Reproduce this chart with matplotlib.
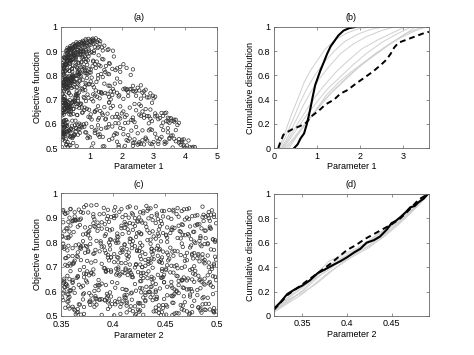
import numpy as np
import matplotlib
matplotlib.use('Agg')
import matplotlib.pyplot as plt

plt.rcParams['font.family'] = ['Liberation Sans', 'DejaVu Sans']
plt.rcParams['font.size'] = 6.5

# Monte Carlo samples: objective value, parameter 1, parameter 2 (one entry per run)
objective = [
    0.912, 0.934, 0.905, 0.948, 0.921, 0.939, 0.903, 0.927, 0.953, 0.916,
    0.908, 0.931, 0.944, 0.919, 0.902, 0.937, 0.925, 0.911, 0.941, 0.929,
    0.906, 0.923, 0.935, 0.951, 0.914, 0.901, 0.932, 0.918, 0.946, 0.909,
    0.927, 0.904, 0.938, 0.913, 0.924, 0.942, 0.907, 0.933, 0.917, 0.903,
    0.915, 0.936, 0.901, 0.928, 0.943, 0.910, 0.922, 0.949, 0.905, 0.930,
    0.852, 0.887, 0.814, 0.869, 0.833, 0.896, 0.805, 0.878, 0.841, 0.862,
    0.823, 0.891, 0.857, 0.808, 0.874, 0.846, 0.899, 0.817, 0.865, 0.838,
    0.881, 0.826, 0.859, 0.893, 0.811, 0.848, 0.872, 0.835, 0.802, 0.884,
    0.843, 0.868, 0.819, 0.895, 0.856, 0.829, 0.877, 0.812, 0.889, 0.851,
    0.807, 0.874, 0.836, 0.861, 0.898, 0.824, 0.845, 0.883, 0.816, 0.867,
    0.892, 0.831, 0.855, 0.803, 0.879, 0.842, 0.866, 0.821, 0.887, 0.849,
    0.838, 0.863, 0.809, 0.886, 0.827, 0.871, 0.853, 0.815, 0.894, 0.834,
    0.876, 0.818, 0.847, 0.882, 0.804, 0.858, 0.825, 0.897, 0.839, 0.864,
    0.829, 0.885, 0.851, 0.812, 0.873, 0.844, 0.801, 0.868, 0.836, 0.891,
    0.858, 0.822, 0.879, 0.843, 0.806, 0.889, 0.832, 0.861, 0.817, 0.875,
    0.752, 0.787, 0.714, 0.769, 0.733, 0.796, 0.705, 0.778, 0.741, 0.762,
    0.723, 0.791, 0.757, 0.708, 0.774, 0.746, 0.799, 0.717, 0.765, 0.738,
    0.781, 0.726, 0.759, 0.793, 0.711, 0.748, 0.772, 0.735, 0.702, 0.784,
    0.743, 0.768, 0.719, 0.795, 0.756, 0.729, 0.777, 0.712, 0.789, 0.751,
    0.707, 0.774, 0.736, 0.761, 0.798, 0.724, 0.745, 0.783, 0.716, 0.767,
    0.792, 0.731, 0.755, 0.703, 0.779, 0.742, 0.766, 0.721, 0.787, 0.749,
    0.738, 0.763, 0.709, 0.786, 0.727, 0.771, 0.753, 0.715, 0.794, 0.734,
    0.776, 0.718, 0.747, 0.782, 0.704, 0.758, 0.725, 0.797, 0.739, 0.764,
    0.729, 0.785, 0.751, 0.712, 0.773, 0.744, 0.701, 0.768, 0.736, 0.791,
    0.758, 0.722, 0.779, 0.743, 0.706, 0.789, 0.732, 0.761, 0.717, 0.775,
    0.652, 0.687, 0.614, 0.669, 0.633, 0.696, 0.605, 0.678, 0.641, 0.662,
    0.623, 0.691, 0.657, 0.608, 0.674, 0.646, 0.699, 0.617, 0.665, 0.638,
    0.681, 0.626, 0.659, 0.693, 0.611, 0.648, 0.672, 0.635, 0.602, 0.684,
    0.643, 0.668, 0.619, 0.695, 0.656, 0.629, 0.677, 0.612, 0.689, 0.651,
    0.607, 0.674, 0.636, 0.661, 0.698, 0.624, 0.645, 0.683, 0.616, 0.667,
    0.692, 0.631, 0.655, 0.603, 0.679, 0.642, 0.666, 0.621, 0.687, 0.649,
    0.638, 0.663, 0.609, 0.686, 0.627, 0.671, 0.653, 0.615, 0.694, 0.634,
    0.676, 0.618, 0.647, 0.682, 0.604, 0.658, 0.625, 0.697, 0.639, 0.664,
    0.629, 0.685, 0.651, 0.612, 0.673, 0.644, 0.601, 0.668, 0.636, 0.691,
    0.658, 0.622, 0.679, 0.643, 0.606, 0.689, 0.632, 0.661, 0.617, 0.675,
    0.552, 0.587, 0.514, 0.569, 0.533, 0.596, 0.505, 0.578, 0.541, 0.562,
    0.523, 0.591, 0.557, 0.508, 0.574, 0.546, 0.599, 0.517, 0.565, 0.538,
    0.581, 0.526, 0.559, 0.593, 0.511, 0.548, 0.572, 0.535, 0.502, 0.584,
    0.543, 0.568, 0.519, 0.595, 0.556, 0.529, 0.577, 0.512, 0.589, 0.551,
    0.507, 0.574, 0.536, 0.561, 0.598, 0.524, 0.545, 0.583, 0.516, 0.567,
    0.592, 0.531, 0.555, 0.503, 0.579, 0.542, 0.566, 0.521, 0.587, 0.549,
    0.538, 0.563, 0.509, 0.586, 0.527, 0.571, 0.553, 0.515, 0.594, 0.534,
    0.576, 0.518, 0.547, 0.582, 0.504, 0.558, 0.525, 0.597, 0.539, 0.564,
    0.529, 0.585, 0.551, 0.512, 0.573, 0.544, 0.501, 0.568, 0.536, 0.591,
    0.558, 0.522, 0.579, 0.543, 0.506, 0.589, 0.532, 0.561, 0.517, 0.575,
    0.921, 0.906, 0.944, 0.913, 0.935, 0.902, 0.928, 0.917, 0.939, 0.909,
    0.932, 0.915, 0.904, 0.947, 0.923, 0.911, 0.936, 0.901, 0.926, 0.919,
    0.907, 0.940, 0.918, 0.929, 0.903, 0.952, 0.914, 0.933, 0.908, 0.924,
    0.845, 0.871, 0.813, 0.896, 0.828, 0.859, 0.884, 0.806, 0.837, 0.866,
    0.818, 0.853, 0.892, 0.831, 0.874, 0.802, 0.863, 0.841, 0.887, 0.824,
    0.869, 0.809, 0.848, 0.881, 0.822, 0.857, 0.895, 0.834, 0.812, 0.876,
    0.833, 0.888, 0.816, 0.852, 0.899, 0.827, 0.864, 0.805, 0.878, 0.846,
    0.893, 0.826, 0.867, 0.811, 0.843, 0.882, 0.819, 0.856, 0.891, 0.839,
    0.804, 0.861, 0.835, 0.886, 0.815, 0.873, 0.849, 0.898, 0.828, 0.857,
    0.745, 0.771, 0.713, 0.796, 0.728, 0.759, 0.784, 0.706, 0.737, 0.766,
    0.718, 0.753, 0.792, 0.731, 0.774, 0.702, 0.763, 0.741, 0.787, 0.724,
    0.769, 0.709, 0.748, 0.781, 0.722, 0.757, 0.795, 0.734, 0.712, 0.776,
    0.733, 0.788, 0.716, 0.752, 0.799, 0.727, 0.764, 0.705, 0.778, 0.746,
    0.793, 0.726, 0.767, 0.711, 0.743, 0.782, 0.719, 0.756, 0.791, 0.739,
    0.704, 0.761, 0.735, 0.786, 0.715, 0.773, 0.749, 0.798, 0.728, 0.757,
    0.752, 0.714, 0.783, 0.738, 0.769, 0.701, 0.744, 0.776, 0.721, 0.762,
    0.648, 0.673, 0.611, 0.694, 0.627, 0.658, 0.683, 0.604, 0.639, 0.667,
    0.616, 0.652, 0.691, 0.633, 0.676, 0.601, 0.662, 0.643, 0.688, 0.622,
    0.671, 0.607, 0.646, 0.682, 0.624, 0.655, 0.697, 0.636, 0.613, 0.678,
    0.631, 0.686, 0.618, 0.654, 0.699, 0.625, 0.665, 0.603, 0.679, 0.645,
    0.695, 0.628, 0.669, 0.609, 0.641, 0.684, 0.617, 0.657, 0.692, 0.637,
    0.605, 0.663, 0.637, 0.687, 0.614, 0.672, 0.649, 0.698, 0.626, 0.659,
    0.654, 0.613, 0.681, 0.638, 0.667, 0.602, 0.646, 0.675, 0.621, 0.663,
    0.548, 0.573, 0.511, 0.594, 0.527, 0.558, 0.583, 0.504, 0.539, 0.567,
    0.516, 0.552, 0.591, 0.533, 0.576, 0.501, 0.562, 0.543, 0.588, 0.522,
    0.571, 0.507, 0.546, 0.582, 0.524, 0.555, 0.597, 0.536, 0.513, 0.578,
    0.531, 0.586, 0.518, 0.554, 0.599, 0.525, 0.565, 0.503, 0.579, 0.545,
    0.595, 0.528, 0.569, 0.509, 0.541, 0.584, 0.517, 0.557, 0.592, 0.537,
    0.505, 0.563, 0.537, 0.587, 0.514, 0.572, 0.549, 0.598, 0.526, 0.559,
    0.554, 0.513, 0.581, 0.538, 0.567, 0.502, 0.546, 0.575, 0.521, 0.563,
]

param1 = [
    0.45, 0.82, 1.55, 1.05, 0.38, 1.22, 0.31, 0.66, 1.18, 1.38,
    0.72, 1.10, 0.88, 0.52, 1.72, 0.57, 0.97, 0.36, 1.32, 0.48,
    0.58, 1.45, 0.74, 0.95, 0.29, 1.12, 0.61, 0.83, 1.27, 0.42,
    1.02, 0.88, 0.69, 1.24, 0.44, 1.08, 0.34, 0.92, 0.63, 1.40,
    0.76, 1.16, 0.50, 0.79, 0.77, 0.95, 0.55, 0.86, 0.27, 1.30,
    0.35, 0.62, 1.48, 0.22, 0.81, 1.05, 0.18, 1.75, 0.47, 0.93,
    0.27, 0.40, 1.21, 0.66, 0.31, 2.05, 0.73, 0.15, 0.54, 1.33,
    0.84, 0.43, 0.19, 1.12, 0.71, 1.62, 0.26, 0.58, 2.28, 0.49,
    0.21, 1.38, 0.34, 0.69, 0.87, 1.85, 0.44, 0.98, 0.29, 0.64,
    1.55, 0.17, 0.76, 0.38, 0.52, 1.02, 0.25, 1.27, 0.61, 0.80,
    0.30, 2.15, 0.57, 0.45, 0.95, 0.16, 1.42, 0.83, 0.68, 0.24,
    1.08, 0.32, 0.89, 0.41, 1.70, 0.20, 0.63, 1.95, 0.55, 0.37,
    0.78, 0.23, 1.16, 0.50, 0.66, 0.28, 2.35, 0.86, 1.50, 0.42,
    0.60, 0.33, 1.60, 0.14, 0.74, 0.91, 1.25, 0.46, 0.19, 0.99,
    0.39, 1.80, 0.53, 0.26, 1.35, 0.71, 0.17, 1.10, 0.85, 0.36,
    0.28, 1.85, 0.55, 0.19, 2.40, 0.72, 1.30, 0.36, 2.75, 0.88,
    0.14, 0.47, 1.62, 0.95, 0.24, 2.10, 0.63, 1.15, 0.33, 2.55,
    0.41, 2.90, 0.16, 1.40, 0.80, 0.29, 1.95, 0.58, 1.05, 0.21,
    2.25, 0.38, 1.70, 0.67, 0.13, 2.65, 0.49, 1.22, 0.90, 0.26,
    0.52, 0.18, 2.35, 1.08, 0.34, 1.55, 0.75, 0.22, 2.98, 0.60,
    0.31, 1.35, 0.45, 2.05, 0.69, 0.15, 1.78, 0.92, 0.40, 2.50,
    1.18, 0.23, 2.80, 0.57, 1.48, 0.35, 0.83, 2.20, 0.20, 1.65,
    0.44, 1.92, 0.12, 0.77, 2.60, 0.30, 1.38, 0.54, 2.15, 0.98,
    0.65, 0.27, 1.12, 3.05, 0.48, 1.72, 0.17, 0.86, 2.45, 0.37,
    1.58, 0.61, 0.25, 2.30, 0.82, 0.42, 1.28, 0.19, 2.70, 1.02,
    0.33, 2.95, 0.18, 1.45, 3.30, 0.62, 2.20, 0.27, 1.85, 0.90,
    3.55, 0.48, 1.20, 0.15, 2.60, 0.75, 0.23, 3.70, 1.65, 0.40,
    0.56, 2.35, 0.21, 1.10, 3.40, 0.38, 1.95, 0.12, 2.85, 0.70,
    1.38, 0.26, 3.15, 0.52, 2.45, 0.95, 0.17, 3.60, 0.44, 2.05,
    0.29, 1.72, 0.60, 2.75, 0.36, 1.28, 3.25, 0.20, 2.30, 0.83,
    0.45, 3.05, 0.14, 2.10, 0.68, 1.55, 0.31, 2.90, 0.24, 1.15,
    2.55, 0.39, 3.45, 0.16, 1.90, 0.58, 1.32, 0.25, 0.87, 3.10,
    0.22, 1.48, 0.77, 2.40, 3.80, 0.13, 2.70, 0.50, 1.02, 0.34,
    1.80, 0.42, 2.65, 0.19, 1.25, 3.35, 0.66, 0.28, 2.15, 0.53,
    0.97, 3.50, 0.35, 2.00, 0.11, 1.60, 2.80, 0.47, 3.65, 0.24,
    0.31, 2.45, 3.85, 0.19, 1.60, 0.72, 4.25, 2.90, 0.44, 1.15,
    3.40, 0.26, 2.05, 0.58, 3.70, 1.30, 0.15, 2.60, 0.85, 3.20,
    0.40, 1.85, 3.05, 0.22, 4.05, 0.95, 2.30, 0.13, 3.60, 1.50,
    2.75, 0.36, 1.10, 3.75, 0.18, 2.20, 0.63, 3.95, 1.70, 0.49,
    1.40, 3.30, 0.24, 2.50, 0.80, 3.85, 0.12, 1.95, 2.95, 0.55,
    0.28, 2.80, 1.25, 4.15, 0.67, 3.50, 0.20, 2.35, 1.05, 0.42,
    3.65, 0.17, 2.10, 0.75, 3.15, 0.33, 1.75, 2.70, 0.52, 3.90,
    1.20, 2.55, 0.46, 3.45, 1.90, 0.14, 3.00, 0.60, 2.25, 0.88,
    0.21, 1.55, 3.55, 0.38, 2.85, 1.00, 4.20, 0.29, 2.40, 3.25,
    0.50, 3.80, 1.35, 0.16, 3.95, 0.70, 2.65, 1.80, 3.35, 0.34,
    0.52, 0.40, 0.99, 0.68, 0.88, 0.25, 0.59, 1.15, 0.80, 0.33,
    0.71, 0.47, 0.62, 1.12, 0.90, 0.37, 1.04, 0.79, 0.53, 1.26,
    0.43, 1.00, 0.56, 0.64, 0.97, 1.09, 0.39, 0.75, 1.58, 0.85,
    0.24, 0.55, 0.16, 0.81, 0.43, 0.30, 0.67, 0.92, 0.20, 0.48,
    0.36, 0.72, 0.27, 1.18, 0.19, 0.58, 0.41, 0.13, 0.90, 0.65,
    0.32, 0.85, 0.22, 0.51, 1.45, 0.38, 0.60, 0.17, 1.02, 0.29,
    0.70, 0.23, 0.44, 0.15, 0.78, 0.97, 0.35, 1.60, 0.56, 0.26,
    0.47, 0.18, 0.88, 0.61, 1.28, 0.33, 0.21, 0.74, 0.39, 0.53,
    0.14, 0.27, 1.95, 0.46, 0.68, 0.22, 0.37, 0.63, 0.83, 1.10,
    0.21, 0.15, 1.90, 0.45, 0.34, 2.60, 0.28, 0.62, 0.18, 1.45,
    0.39, 0.26, 0.17, 2.20, 0.52, 0.13, 0.95, 0.31, 1.25, 0.57,
    0.16, 2.85, 0.42, 0.24, 1.10, 0.36, 0.49, 1.75, 0.20, 0.66,
    0.27, 0.13, 2.45, 0.58, 0.22, 1.35, 0.18, 3.00, 0.40, 0.70,
    0.45, 0.33, 0.15, 1.60, 2.05, 0.26, 0.55, 0.19, 1.05, 0.85,
    0.14, 0.38, 2.70, 0.23, 0.60, 1.20, 0.29, 0.44, 1.85, 2.35,
    0.50, 0.17, 0.32, 0.78, 0.25, 1.65, 2.15, 0.41, 0.12, 0.63,
    0.19, 0.42, 2.95, 0.27, 1.70, 0.14, 0.61, 3.50, 0.35, 2.25,
    0.23, 1.15, 0.31, 2.60, 0.16, 0.88, 0.48, 3.05, 0.21, 1.95,
    0.37, 2.40, 0.13, 0.72, 3.20, 0.26, 0.18, 1.40, 0.54, 0.30,
    2.85, 0.15, 1.05, 0.40, 0.22, 3.45, 0.66, 1.80, 0.29, 0.12,
    0.20, 2.10, 0.34, 3.65, 0.47, 0.25, 1.25, 0.82, 0.14, 2.70,
    3.30, 0.18, 0.59, 1.60, 2.35, 0.38, 0.24, 0.11, 1.00, 2.90,
    0.28, 0.44, 2.55, 0.17, 0.74, 1.90, 3.40, 0.32, 1.50, 0.21,
    0.16, 2.65, 0.35, 1.25, 3.90, 0.22, 0.55, 4.30, 1.70, 0.13,
    0.26, 3.60, 0.19, 2.15, 0.45, 1.05, 0.14, 3.10, 0.82, 2.40,
    0.33, 1.45, 3.25, 0.17, 2.55, 0.62, 0.24, 3.95, 1.90, 0.40,
    4.10, 0.20, 2.90, 0.52, 1.60, 0.29, 3.45, 0.12, 2.05, 0.38,
    0.15, 3.70, 0.27, 2.35, 0.92, 0.18, 3.15, 1.30, 0.43, 2.75,
    0.30, 0.68, 3.80, 0.21, 2.50, 1.15, 0.36, 0.14, 3.35, 1.85,
    2.20, 0.25, 0.57, 3.50, 0.13, 4.00, 1.40, 2.95, 0.47, 0.19,
]

param2 = [
    0.412, 0.367, 0.489, 0.441, 0.356, 0.473, 0.398, 0.429, 0.384, 0.461,
    0.437, 0.495, 0.372, 0.418, 0.453, 0.359, 0.406, 0.481, 0.391, 0.447,
    0.363, 0.426, 0.468, 0.379, 0.497, 0.415, 0.352, 0.442, 0.486, 0.403,
    0.458, 0.381, 0.434, 0.494, 0.369, 0.422, 0.476, 0.395, 0.354, 0.409,
    0.387, 0.471, 0.358, 0.449, 0.414, 0.491, 0.376, 0.432, 0.463, 0.401,
    0.444, 0.361, 0.417, 0.479, 0.393, 0.456, 0.371, 0.499, 0.425, 0.383,
    0.351, 0.438, 0.485, 0.404, 0.466, 0.377, 0.421, 0.357, 0.474, 0.448,
    0.428, 0.392, 0.459, 0.366, 0.436, 0.488, 0.413, 0.374, 0.452, 0.396,
    0.477, 0.408, 0.355, 0.443, 0.389, 0.469, 0.431, 0.496, 0.364, 0.419,
    0.402, 0.483, 0.427, 0.373, 0.492, 0.439, 0.353, 0.411, 0.465, 0.386,
    0.368, 0.451, 0.394, 0.478, 0.416, 0.362, 0.445, 0.405, 0.487, 0.433,
    0.455, 0.378, 0.498, 0.423, 0.359, 0.467, 0.399, 0.441, 0.382, 0.472,
    0.419, 0.462, 0.385, 0.352, 0.446, 0.408, 0.484, 0.369, 0.435, 0.493,
    0.376, 0.424, 0.457, 0.397, 0.481, 0.358, 0.416, 0.463, 0.404, 0.364,
    0.493, 0.357, 0.441, 0.465, 0.384, 0.427, 0.371, 0.452, 0.489, 0.412,
    0.431, 0.475, 0.362, 0.409, 0.454, 0.388, 0.497, 0.426, 0.366, 0.448,
    0.383, 0.418, 0.471, 0.354, 0.437, 0.482, 0.405, 0.379, 0.459, 0.395,
    0.467, 0.396, 0.428, 0.488, 0.361, 0.413, 0.445, 0.354, 0.478, 0.421,
    0.357, 0.444, 0.401, 0.466, 0.393, 0.499, 0.368, 0.434, 0.411, 0.486,
    0.422, 0.369, 0.486, 0.437, 0.403, 0.375, 0.458, 0.391, 0.447, 0.356,
    0.491, 0.427, 0.382, 0.356, 0.474, 0.415, 0.439, 0.487, 0.371, 0.453,
    0.398, 0.462, 0.416, 0.443, 0.369, 0.494, 0.381, 0.408, 0.436, 0.477,
    0.361, 0.405, 0.476, 0.389, 0.431, 0.452, 0.363, 0.479, 0.398, 0.425,
    0.446, 0.374, 0.438, 0.497, 0.413, 0.365, 0.469, 0.423, 0.355, 0.484,
    0.415, 0.483, 0.351, 0.426, 0.461, 0.397, 0.434, 0.376, 0.492, 0.442,
    0.472, 0.395, 0.457, 0.381, 0.352, 0.438, 0.481, 0.409, 0.426, 0.366,
    0.386, 0.447, 0.419, 0.473, 0.404, 0.361, 0.428, 0.496, 0.377, 0.456,
    0.434, 0.367, 0.498, 0.412, 0.445, 0.484, 0.372, 0.438, 0.461, 0.393,
    0.353, 0.479, 0.437, 0.391, 0.468, 0.421, 0.455, 0.362, 0.405, 0.488,
    0.459, 0.411, 0.375, 0.496, 0.428, 0.387, 0.499, 0.447, 0.369, 0.418,
    0.403, 0.487, 0.446, 0.358, 0.393, 0.463, 0.414, 0.383, 0.474, 0.437,
    0.478, 0.356, 0.409, 0.451, 0.488, 0.374, 0.433, 0.467, 0.392, 0.361,
    0.379, 0.432, 0.466, 0.415, 0.359, 0.448, 0.393, 0.421, 0.485, 0.406,
    0.441, 0.398, 0.353, 0.484, 0.427, 0.471, 0.359, 0.403, 0.449, 0.476,
    0.366, 0.456, 0.493, 0.374, 0.412, 0.381, 0.492, 0.462, 0.353, 0.429,
    0.424, 0.371, 0.447, 0.406, 0.482, 0.434, 0.364, 0.398, 0.467, 0.392,
    0.489, 0.417, 0.378, 0.459, 0.351, 0.402, 0.476, 0.439, 0.418, 0.357,
    0.395, 0.466, 0.431, 0.363, 0.444, 0.489, 0.412, 0.372, 0.457, 0.481,
    0.451, 0.384, 0.496, 0.427, 0.377, 0.358, 0.442, 0.485, 0.394, 0.413,
    0.372, 0.429, 0.361, 0.478, 0.435, 0.416, 0.384, 0.452, 0.497, 0.441,
    0.463, 0.497, 0.404, 0.389, 0.468, 0.444, 0.371, 0.426, 0.357, 0.408,
    0.417, 0.352, 0.474, 0.438, 0.395, 0.486, 0.457, 0.366, 0.431, 0.482,
    0.358, 0.441, 0.399, 0.458, 0.369, 0.413, 0.493, 0.435, 0.476, 0.387,
    0.484, 0.413, 0.426, 0.365, 0.491, 0.378, 0.421, 0.449, 0.407, 0.372,
    0.409, 0.468, 0.383, 0.448, 0.422, 0.459, 0.354, 0.396, 0.471, 0.436,
    0.371, 0.448, 0.402, 0.487, 0.359, 0.425, 0.466, 0.391, 0.436, 0.479,
    0.454, 0.381, 0.497, 0.416, 0.363, 0.442, 0.408, 0.471, 0.352, 0.429,
    0.395, 0.462, 0.354, 0.433, 0.486, 0.374, 0.419, 0.458, 0.401, 0.492,
    0.438, 0.368, 0.475, 0.394, 0.451, 0.411, 0.357, 0.483, 0.423, 0.382,
    0.484, 0.414, 0.363, 0.467, 0.392, 0.498, 0.432, 0.376, 0.446, 0.404,
    0.359, 0.433, 0.489, 0.385, 0.422, 0.355, 0.473, 0.409, 0.496, 0.447,
    0.427, 0.493, 0.378, 0.456, 0.401, 0.444, 0.366, 0.419, 0.381, 0.464,
    0.469, 0.351, 0.421, 0.398, 0.478, 0.389, 0.452, 0.494, 0.362, 0.415,
    0.388, 0.457, 0.443, 0.361, 0.416, 0.481, 0.397, 0.434, 0.473, 0.356,
    0.443, 0.397, 0.358, 0.491, 0.431, 0.366, 0.485, 0.452, 0.405, 0.376,
    0.362, 0.476, 0.411, 0.439, 0.353, 0.459, 0.387, 0.498, 0.428, 0.469,
    0.497, 0.426, 0.465, 0.375, 0.444, 0.407, 0.352, 0.437, 0.389, 0.418,
    0.414, 0.364, 0.436, 0.482, 0.396, 0.471, 0.423, 0.359, 0.455, 0.491,
    0.378, 0.453, 0.392, 0.422, 0.469, 0.353, 0.445, 0.478, 0.367, 0.404,
    0.456, 0.409, 0.481, 0.357, 0.412, 0.437, 0.395, 0.426, 0.488, 0.373,
    0.401, 0.488, 0.369, 0.447, 0.383, 0.495, 0.361, 0.408, 0.434, 0.457,
    0.476, 0.379, 0.428, 0.462, 0.355, 0.418, 0.479, 0.386, 0.361, 0.443,
    0.354, 0.439, 0.495, 0.404, 0.458, 0.382, 0.427, 0.466, 0.412, 0.371,
    0.432, 0.471, 0.386, 0.359, 0.494, 0.447, 0.405, 0.353, 0.468, 0.424,
    0.389, 0.416, 0.452, 0.429, 0.372, 0.463, 0.491, 0.441, 0.398, 0.483,
    0.466, 0.355, 0.407, 0.475, 0.427, 0.393, 0.436, 0.372, 0.451, 0.399,
    0.413, 0.482, 0.449, 0.368, 0.402, 0.477, 0.358, 0.492, 0.385, 0.437,
    0.365, 0.426, 0.375, 0.493, 0.449, 0.422, 0.467, 0.417, 0.356, 0.461,
    0.492, 0.394, 0.461, 0.418, 0.366, 0.357, 0.411, 0.451, 0.429, 0.387,
    0.425, 0.458, 0.352, 0.441, 0.487, 0.401, 0.378, 0.465, 0.496, 0.363,
    0.357, 0.407, 0.486, 0.379, 0.424, 0.469, 0.441, 0.382, 0.413, 0.474,
    0.448, 0.474, 0.419, 0.395, 0.353, 0.488, 0.392, 0.429, 0.457, 0.368,
    0.397, 0.362, 0.442, 0.463, 0.413, 0.431, 0.499, 0.356, 0.377, 0.452,
    0.473, 0.438, 0.397, 0.356, 0.476, 0.383, 0.425, 0.461, 0.444, 0.402,
    0.382, 0.497, 0.456, 0.421, 0.389, 0.446, 0.367, 0.411, 0.484, 0.431,
]

# (b) cumulative distributions of parameter 1
b_best_x = [0.47, 0.55, 0.62, 0.70, 0.76, 0.80, 0.85, 0.90, 0.96, 1.02, 1.08, 1.15,
            1.24, 1.32, 1.40, 1.50, 1.62, 1.75, 1.90]
b_best_y = [0.0, 0.03, 0.08, 0.12, 0.19, 0.25, 0.33, 0.42, 0.52, 0.58, 0.64, 0.70,
            0.78, 0.84, 0.88, 0.93, 0.97, 0.99, 1.0]
b_worst_x = [0.10, 0.15, 0.22, 0.30, 0.45, 0.60, 0.75, 0.90, 1.05, 1.20, 1.40, 1.55, 1.72,
             1.90, 2.10, 2.30, 2.50, 2.62, 2.72, 2.80, 2.90, 3.05, 3.20, 3.35, 3.50, 3.61]
b_worst_y = [0.0, 0.05, 0.11, 0.13, 0.16, 0.18, 0.21, 0.27, 0.31, 0.36, 0.40, 0.45, 0.48,
             0.53, 0.58, 0.63, 0.69, 0.73, 0.78, 0.83, 0.87, 0.89, 0.91, 0.93, 0.95, 0.96]
b_groups_x = [
    [0.12, 0.25, 0.40, 0.55, 0.70, 0.85, 1.00, 1.20, 1.45, 1.70, 2.00, 2.30],
    [0.15, 0.30, 0.45, 0.60, 0.78, 0.95, 1.15, 1.40, 1.65, 1.95, 2.25, 2.55],
    [0.18, 0.35, 0.50, 0.68, 0.85, 1.05, 1.30, 1.55, 1.85, 2.15, 2.50, 2.80],
    [0.20, 0.38, 0.55, 0.75, 0.95, 1.20, 1.45, 1.75, 2.05, 2.40, 2.75, 3.05],
    [0.22, 0.40, 0.60, 0.80, 1.00, 1.25, 1.55, 1.85, 2.15, 2.50, 2.85, 3.20],
    [0.25, 0.45, 0.65, 0.85, 1.10, 1.35, 1.65, 1.95, 2.30, 2.65, 3.00, 3.30],
    [0.30, 0.48, 0.68, 0.90, 1.15, 1.45, 1.75, 2.05, 2.40, 2.75, 3.10, 3.45],
    [0.35, 0.52, 0.72, 0.95, 1.20, 1.50, 1.80, 2.10, 2.40, 2.70, 3.00, 3.30, 3.55],
]
b_groups_y = [
    [0.0, 0.12, 0.27, 0.40, 0.54, 0.64, 0.72, 0.82, 0.90, 0.95, 0.99, 1.0],
    [0.0, 0.12, 0.24, 0.37, 0.50, 0.60, 0.70, 0.80, 0.88, 0.94, 0.98, 1.0],
    [0.0, 0.11, 0.22, 0.35, 0.46, 0.57, 0.68, 0.78, 0.86, 0.92, 0.97, 1.0],
    [0.0, 0.10, 0.20, 0.31, 0.42, 0.53, 0.63, 0.73, 0.82, 0.89, 0.95, 1.0],
    [0.0, 0.09, 0.19, 0.29, 0.38, 0.49, 0.59, 0.69, 0.78, 0.87, 0.94, 1.0],
    [0.0, 0.08, 0.17, 0.26, 0.36, 0.46, 0.56, 0.66, 0.76, 0.85, 0.93, 1.0],
    [0.0, 0.08, 0.17, 0.27, 0.39, 0.50, 0.60, 0.69, 0.78, 0.87, 0.95, 1.0],
    [0.0, 0.09, 0.19, 0.30, 0.43, 0.54, 0.63, 0.71, 0.79, 0.86, 0.92, 0.97, 1.0],
]

# (d) cumulative distributions of parameter 2
d_best_x = [0.318, 0.325, 0.333, 0.342, 0.350, 0.358, 0.367, 0.375, 0.385, 0.393, 0.400,
            0.408, 0.415, 0.422, 0.430, 0.437, 0.445, 0.450, 0.455, 0.460, 0.466, 0.471,
            0.476, 0.480, 0.486, 0.491]
d_best_y = [0.06, 0.11, 0.18, 0.22, 0.25, 0.29, 0.35, 0.38, 0.42, 0.45, 0.48,
            0.52, 0.55, 0.60, 0.62, 0.65, 0.71, 0.76, 0.78, 0.81, 0.85, 0.89,
            0.90, 0.93, 0.96, 1.0]
d_worst_x = [0.318, 0.333, 0.350, 0.367, 0.380, 0.390, 0.400, 0.410, 0.420, 0.430,
             0.440, 0.450, 0.460, 0.470, 0.480, 0.491]
d_worst_y = [0.05, 0.17, 0.26, 0.35, 0.42, 0.48, 0.54, 0.58, 0.63, 0.67,
             0.71, 0.75, 0.80, 0.87, 0.95, 1.0]
d_groups_x = [0.318, 0.335, 0.350, 0.365, 0.380, 0.395, 0.410, 0.425, 0.440, 0.455,
              0.470, 0.482, 0.491]
d_groups_y = [
    [0.04, 0.13, 0.20, 0.30, 0.40, 0.47, 0.53, 0.60, 0.68, 0.76, 0.85, 0.93, 1.0],
    [0.05, 0.15, 0.23, 0.34, 0.45, 0.50, 0.55, 0.62, 0.70, 0.78, 0.86, 0.94, 1.0],
    [0.03, 0.11, 0.18, 0.27, 0.36, 0.43, 0.51, 0.58, 0.66, 0.75, 0.84, 0.92, 1.0],
    [0.06, 0.16, 0.24, 0.31, 0.38, 0.46, 0.52, 0.57, 0.64, 0.73, 0.83, 0.92, 1.0],
    [0.04, 0.12, 0.21, 0.32, 0.42, 0.48, 0.54, 0.61, 0.69, 0.77, 0.87, 0.95, 1.0],
    [0.05, 0.14, 0.19, 0.26, 0.35, 0.44, 0.50, 0.56, 0.65, 0.74, 0.84, 0.93, 1.0],
]

frame_col = '#666666'
gray_col = '#d0d0d0'
fs = 6.5


def style(ax, title):
    ax.set_title(title, fontsize=fs, pad=5)
    for s in ax.spines.values():
        s.set_color(frame_col)
        s.set_linewidth(0.6)
    ax.tick_params(direction='in', length=2.5, width=0.5, color=frame_col,
                   top=True, right=True, labelsize=fs, pad=2.5)


fig = plt.figure(figsize=(4.74, 3.55), dpi=100)
axa = fig.add_axes([0.129, 0.583, 0.329, 0.341])
axb = fig.add_axes([0.578, 0.583, 0.327, 0.341])
axc = fig.add_axes([0.129, 0.111, 0.329, 0.344])
axd = fig.add_axes([0.578, 0.110, 0.327, 0.344])

# (a)
axa.scatter(param1, objective, s=6, facecolors='none', edgecolors='#303030', linewidths=0.5)
axa.set_xlim(0.09, 5)
axa.set_ylim(0.5, 1)
axa.set_xticks([1, 2, 3, 4, 5])
axa.set_yticks([0.5, 0.6, 0.7, 0.8, 0.9, 1])
axa.set_yticklabels(['0.5', '0.6', '0.7', '0.8', '0.9', '1'])
axa.set_xlabel('Parameter 1', labelpad=1)
axa.set_ylabel('Objective function', labelpad=2)
style(axa, '(a)')

# (b)
for gx, gy in zip(b_groups_x, b_groups_y):
    axb.plot(gx, gy, color=gray_col, lw=0.7)
axb.plot(b_best_x, b_best_y, 'k-', lw=1.5)
axb.plot(b_worst_x, b_worst_y, 'k--', lw=1.4, dashes=(3, 2))
axb.set_xlim(0, 3.61)
axb.set_ylim(0, 1)
axb.set_xticks([0, 1, 2, 3])
axb.set_yticks([0, 0.2, 0.4, 0.6, 0.8, 1])
axb.set_yticklabels(['0', '0.2', '0.4', '0.6', '0.8', '1'])
axb.set_xlabel('Parameter 1', labelpad=1)
axb.set_ylabel('Cumulative distribution', labelpad=2)
style(axb, '(b)')

# (c)
axc.scatter(param2, objective, s=6, facecolors='none', edgecolors='#303030', linewidths=0.5)
axc.set_xlim(0.35, 0.5)
axc.set_ylim(0.5, 1)
axc.set_xticks([0.35, 0.4, 0.45, 0.5])
axc.set_xticklabels(['0.35', '0.4', '0.45', '0.5'])
axc.set_yticks([0.5, 0.6, 0.7, 0.8, 0.9, 1])
axc.set_yticklabels(['0.5', '0.6', '0.7', '0.8', '0.9', '1'])
axc.set_xlabel('Parameter 2', labelpad=1)
axc.set_ylabel('Objective function', labelpad=2)
style(axc, '(c)')
axc.tick_params(axis='x', pad=3.5)

# (d)
for gy in d_groups_y:
    axd.plot(d_groups_x, gy, color=gray_col, lw=0.7)
axd.plot(d_best_x, d_best_y, 'k-', lw=1.5)
axd.plot(d_worst_x, d_worst_y, 'k--', lw=1.4, dashes=(3, 2))
axd.set_xlim(0.318, 0.492)
axd.set_ylim(0, 1)
axd.set_xticks([0.35, 0.4, 0.45])
axd.set_xticklabels(['0.35', '0.4', '0.45'])
axd.set_yticks([0, 0.2, 0.4, 0.6, 0.8, 1])
axd.set_yticklabels(['0', '0.2', '0.4', '0.6', '0.8', '1'])
axd.set_xlabel('Parameter 2', labelpad=1)
axd.set_ylabel('Cumulative distribution', labelpad=2)
style(axd, '(d)')

fig.savefig('out.png', dpi=100)
